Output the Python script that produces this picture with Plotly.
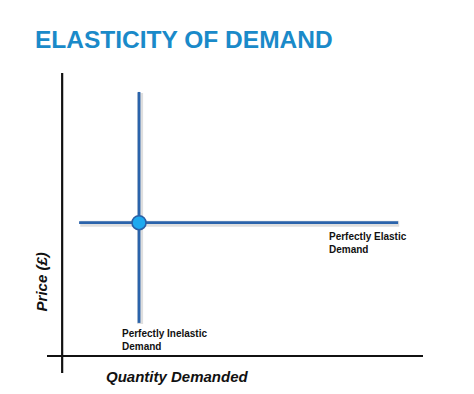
import plotly.graph_objects as go

# Conceptual diagram data (abstract units: quantity on x, price on y)
axis_x_q = [-0.42, 10.0]      # horizontal axis extent (quantity)
axis_x_p = [0.0, 0.0]
axis_y_q = [0.0, 0.0]
axis_y_p = [-0.6, 10.0]       # vertical axis extent (price)

inelastic_q = [2.13, 2.13]    # perfectly inelastic demand (vertical)
inelastic_p = [1.17, 9.33]
elastic_q = [0.47, 9.31]      # perfectly elastic demand (horizontal)
elastic_p = [4.71, 4.71]
equilibrium_q = [2.13]
equilibrium_p = [4.71]

title_text = "ELASTICITY OF DEMAND"
x_title = "Quantity Demanded"
y_title = "Price (£)"
label_inelastic = "Perfectly Inelastic<br>Demand"
label_elastic = "Perfectly Elastic<br>Demand"

LINE = "#2a63ab"
SHADOW = "rgba(0,0,0,0.13)"
FONT = "Liberation Sans, Arial, sans-serif"

fig = go.Figure()

# axes
for xs, ys in [(axis_x_q, axis_x_p), (axis_y_q, axis_y_p)]:
    fig.add_trace(go.Scatter(x=xs, y=ys, mode="lines",
                             line=dict(color="#111111", width=2.2),
                             hoverinfo="skip", showlegend=False))

# demand curves with soft shadow
for xs, ys in [(inelastic_q, inelastic_p), (elastic_q, elastic_p)]:
    fig.add_trace(go.Scatter(x=[v + 0.03 for v in xs], y=[v - 0.04 for v in ys],
                             mode="lines", line=dict(color=SHADOW, width=6),
                             hoverinfo="skip", showlegend=False))
for xs, ys in [(inelastic_q, inelastic_p), (elastic_q, elastic_p)]:
    fig.add_trace(go.Scatter(x=xs, y=ys, mode="lines",
                             line=dict(color=LINE, width=2.8),
                             hoverinfo="skip", showlegend=False))

fig.add_trace(go.Scatter(x=equilibrium_q, y=equilibrium_p, mode="markers",
                         marker=dict(size=14, color="#1ea9ef",
                                     line=dict(color="#2a5fa5", width=1.6)),
                         hoverinfo="skip", showlegend=False))

annots = [
    dict(x=1.60, y=1.05, text=label_inelastic, xanchor="left", yanchor="top",
         align="left", xref="x", yref="y",
         font=dict(size=10, color="#111111", family=FONT, weight="bold")),
    dict(x=7.35, y=4.49, text=label_elastic, xanchor="left", yanchor="top",
         align="left", xref="x", yref="y",
         font=dict(size=10, color="#111111", family=FONT, weight="bold")),
    dict(x=0.152, y=-0.012, text=x_title, xanchor="left", yanchor="middle",
         xref="paper", yref="paper",
         font=dict(size=15, color="#111111", family=FONT, weight="bold", style="italic")),
    dict(x=-0.015, y=0.303, text=y_title, textangle=-90, xanchor="center", yanchor="middle",
         xref="paper", yref="paper",
         font=dict(size=15, color="#111111", family=FONT, weight="bold", style="italic")),
]
for a in annots:
    a["showarrow"] = False
    fig.add_annotation(**a)

fig.update_layout(
    width=474, height=394,
    margin=dict(l=39, r=59, t=65, b=29),
    paper_bgcolor="white", plot_bgcolor="white",
    title=dict(text=title_text, x=27 / 474, xanchor="left", xref="container",
               y=1 - 31 / 394, yanchor="middle", yref="container",
               font=dict(size=24.5, color="#1a8ac9", family=FONT, weight="bold")),
    xaxis=dict(range=[-0.42, 10.0], visible=False, fixedrange=True),
    yaxis=dict(range=[-0.6, 10.0], visible=False, fixedrange=True),
)

fig.write_html("out.html")
